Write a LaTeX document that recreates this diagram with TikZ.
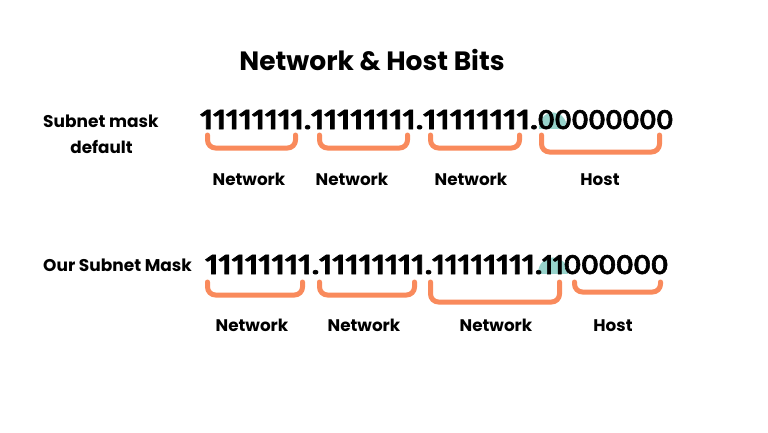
\documentclass[tikz,border=0pt]{standalone}
\usepackage{fontspec}
\usepackage{graphicx}
\setmainfont{Poppins}
\newfontfamily\digitfont[Numbers=Proportional,FakeBold=2.2]{Lato}
\newcommand{\octet}[2]{\resizebox{#1pt}{19pt}{\digitfont\bfseries #2}}
\definecolor{brorange}{HTML}{F98A5C}
\definecolor{blobteal}{HTML}{97D3CB}
\begin{document}
\begin{tikzpicture}[x=1pt,y=-1pt,
  bracket/.style={draw=brorange,line width=5pt,line cap=round,line join=round,rounded corners=8pt},
  lbl/.style={inner sep=0pt,anchor=base,font=\fontsize{16.8}{18}\selectfont\bfseries},
  sidelbl/.style={inner sep=0pt,anchor=base west,font=\fontsize{17}{18}\selectfont\bfseries},
  bits/.style={inner sep=0pt,anchor=base west},
  blob/.style={fill=blobteal}]
\useasboundingbox[fill=white] (0,0) rectangle (768,432);
% title
\node[inner sep=0pt,anchor=base,font=\fontsize{26.5}{28}\selectfont\bfseries] (title) at (372,70) {Network \& Host Bits};
% row 1
\node[sidelbl] (lab1a) at (43,127) {Subnet mask};
\node[lbl] (lab1b) at (101.5,153) {default};
\fill[blob] (539,129) .. controls (539,107) and (567,107) .. (567,129) -- cycle;
\node[bits] (bits1) at (200,129) {\octet{111}{11111111.}\octet{112}{11111111.}\octet{114.5}{11111111.}\octet{135.5}{00000000}};
\draw[bracket] (207.5,135) -- (207.5,148) -- (295.5,148) -- (295.5,135);
\draw[bracket] (319.5,135) -- (319.5,148) -- (407.5,148) -- (407.5,135);
\draw[bracket] (430.5,135) -- (430.5,148) -- (519.5,148) -- (519.5,135);
\draw[bracket] (541.5,135) -- (541.5,152) -- (659.5,152) -- (659.5,135);
\node[lbl] (n11) at (249,185) {Network};
\node[lbl] (n12) at (352,185) {Network};
\node[lbl] (n13) at (471,185) {Network};
\node[lbl] (h1) at (600,185) {Host};
% row 2
\node[sidelbl] (lab2) at (43,271) {Our Subnet Mask};
\fill[blob] (538,274) .. controls (538,252) and (568,252) .. (568,274) -- cycle;
\node[bits] (bits2) at (205,274) {\octet{114}{11111111.}\octet{113}{11111111.}\octet{110}{11111111.}\octet{126}{11000000}};
\draw[bracket] (207.5,282) -- (207.5,295) -- (302.5,295) -- (302.5,282);
\draw[bracket] (319.5,282) -- (319.5,295) -- (414.5,295) -- (414.5,282);
\draw[bracket] (430.5,282) -- (430.5,302) -- (559.5,302) -- (559.5,282);
\draw[bracket] (574.5,282) -- (574.5,292) -- (660.5,292) -- (660.5,282);
\node[lbl] (n21) at (252,331) {Network};
\node[lbl] (n22) at (364,331) {Network};
\node[lbl] (n23) at (496,331) {Network};
\node[lbl] (h2) at (613,331) {Host};
\end{tikzpicture}
\end{document}
